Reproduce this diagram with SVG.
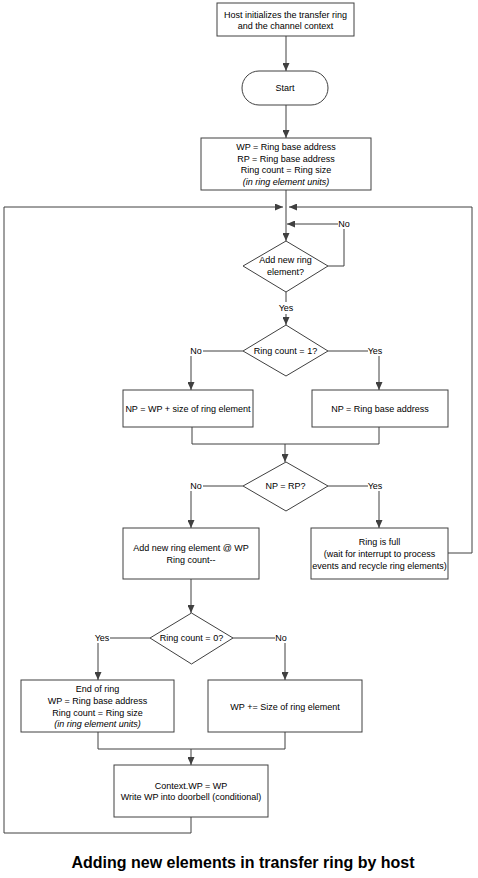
<svg xmlns="http://www.w3.org/2000/svg" width="478" height="878" viewBox="0 0 478 878">
<style>
.box{fill:#fff;stroke:#404040;stroke-width:1}
.t{font-family:"Liberation Sans",Arial,sans-serif;font-size:9px;fill:#000;text-anchor:middle;dominant-baseline:central}
.i{font-style:italic}
.c{fill:none;stroke:#404040;stroke-width:1}
.title{font-family:"Liberation Sans",Arial,sans-serif;font-size:16px;font-weight:bold;fill:#000;text-anchor:middle}
</style>
<defs>
<marker id="ah" markerUnits="userSpaceOnUse" markerWidth="8" markerHeight="7" refX="8" refY="3.5" orient="auto">
<path d="M0,0 L8,3.5 L0,7 z" fill="#404040"/>
</marker>
</defs>
<rect width="478" height="878" fill="#fff"/>
<g id="connectors">
<path class="c" d="M286,36 V71" marker-end="url(#ah)"/>
<path class="c" d="M286,105 V138" marker-end="url(#ah)"/>
<path class="c" d="M286,190 V241" marker-end="url(#ah)"/>
<path class="c" d="M191,817 V833 H4 V207 H283" marker-end="url(#ah)"/>
<path class="c" d="M448,553 H472 V207 H289" marker-end="url(#ah)"/>
<path class="c" d="M328,266 H344 V229"/>
<path class="c" d="M338,224 H287" marker-end="url(#ah)"/>
<path class="c" d="M286,292 V302"/>
<path class="c" d="M286,314 V325" marker-end="url(#ah)"/>
<path class="c" d="M243,351 H203"/>
<path class="c" d="M191,356 V390" marker-end="url(#ah)"/>
<path class="c" d="M328,351 H368"/>
<path class="c" d="M379,356 V390" marker-end="url(#ah)"/>
<path class="c" d="M192,427 V444 H379 V427"/>
<path class="c" d="M285,444 V462" marker-end="url(#ah)"/>
<path class="c" d="M243,486 H203"/>
<path class="c" d="M191,491 V528" marker-end="url(#ah)"/>
<path class="c" d="M328,486 H368"/>
<path class="c" d="M379,491 V528" marker-end="url(#ah)"/>
<path class="c" d="M191,579 V613" marker-end="url(#ah)"/>
<path class="c" d="M150,638 H110"/>
<path class="c" d="M98,643 V680" marker-end="url(#ah)"/>
<path class="c" d="M233,638 H275"/>
<path class="c" d="M285,643 V680" marker-end="url(#ah)"/>
<path class="c" d="M98,732 V749 H285 V732"/>
<path class="c" d="M191,749 V765" marker-end="url(#ah)"/>
<text class="t" x="344" y="224">No</text>
<text class="t" x="286" y="308">Yes</text>
<text class="t" x="196" y="351">No</text>
<text class="t" x="375" y="351">Yes</text>
<text class="t" x="196" y="486">No</text>
<text class="t" x="375" y="486">Yes</text>
<text class="t" x="102" y="638">Yes</text>
<text class="t" x="281" y="638">No</text>
</g>
<g id="n1">
<rect class="box" x="217" y="3" width="137" height="33"/>
<text class="t" x="285.5" y="14.5">Host initializes the transfer ring</text>
<text class="t" x="285.5" y="25.5">and the channel context</text>
</g>
<g id="n2">
<rect class="box" x="242" y="71" width="86" height="34" rx="17" ry="17"/>
<text class="t" x="285" y="88">Start</text>
</g>
<g id="n3">
<rect class="box" x="201" y="138" width="170" height="52"/>
<text class="t" x="286" y="147">WP = Ring base address</text>
<text class="t" x="286" y="158.5">RP = Ring base address</text>
<text class="t" x="286" y="170">Ring count = Ring size</text>
<text class="t i" x="286" y="181.5">(in ring element units)</text>
</g>
<g id="d1">
<polygon class="box" points="286,241 328,266 286,292 243,266"/>
<text class="t" x="285.5" y="260">Add new ring</text>
<text class="t" x="285.5" y="272">element?</text>
</g>
<g id="d2">
<polygon class="box" points="286,325 328,351 286,376 243,351"/>
<text class="t" x="285.5" y="351">Ring count = 1?</text>
</g>
<g id="n4">
<rect class="box" x="123" y="390" width="130" height="37"/>
<text class="t" x="188" y="409">NP = WP + size of ring element</text>
</g>
<g id="n5">
<rect class="box" x="312" y="390" width="136" height="37"/>
<text class="t" x="380" y="409">NP = Ring base address</text>
</g>
<g id="d3">
<polygon class="box" points="286,462 328,486 286,511 243,486"/>
<text class="t" x="285.5" y="486">NP = RP?</text>
</g>
<g id="n6">
<rect class="box" x="123" y="528" width="136" height="51"/>
<text class="t" x="191" y="548">Add new ring element @ WP</text>
<text class="t" x="191" y="560">Ring count--</text>
</g>
<g id="n7">
<rect class="box" x="311" y="528" width="137" height="51"/>
<text class="t" x="379.5" y="542">Ring is full</text>
<text class="t" x="379.5" y="554">(wait for interrupt to process</text>
<text class="t" x="379.5" y="566">events and recycle ring elements)</text>
</g>
<g id="d4">
<polygon class="box" points="191.5,613 233,638 191.5,664 150,638"/>
<text class="t" x="191.5" y="638">Ring count = 0?</text>
</g>
<g id="n8">
<rect class="box" x="21" y="680" width="153" height="52"/>
<text class="t" x="97.5" y="689">End of ring</text>
<text class="t" x="97.5" y="701">WP = Ring base address</text>
<text class="t" x="97.5" y="712.5">Ring count = Ring size</text>
<text class="t i" x="97.5" y="724">(in ring element units)</text>
</g>
<g id="n9">
<rect class="box" x="208" y="680" width="154" height="52"/>
<text class="t" x="285" y="707">WP += Size of ring element</text>
</g>
<g id="n10">
<rect class="box" x="114" y="765" width="154" height="52"/>
<text class="t" x="191" y="786">Context.WP = WP</text>
<text class="t" x="191" y="797">Write WP into doorbell (conditional)</text>
</g>
<text class="title" x="243" y="868">Adding new elements in transfer ring by host</text>
</svg>
